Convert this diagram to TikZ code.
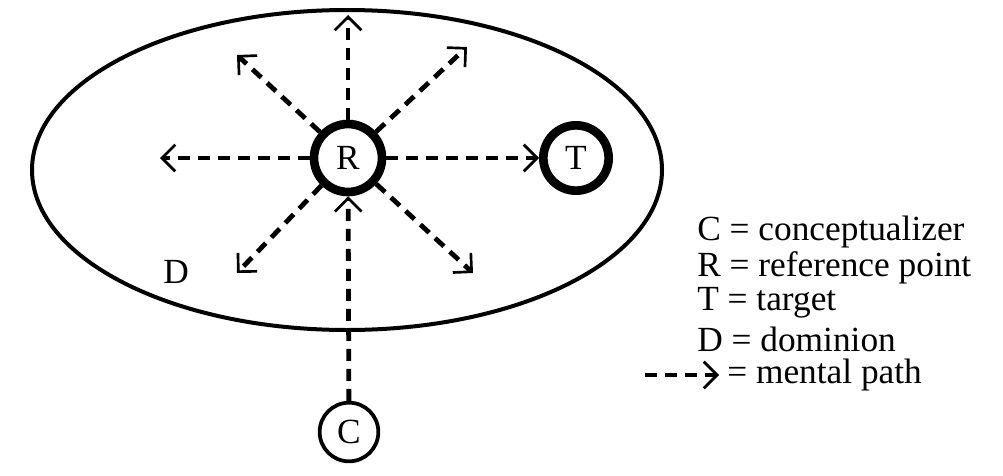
\documentclass[tikz,border=0pt]{standalone}
\usepackage{fontspec}
\setmainfont{Liberation Serif}
\usetikzlibrary{arrows.meta}
\begin{document}
\begin{tikzpicture}[x=0.75pt,y=-0.75pt,
  path/.style={line width=3.6pt,dash pattern=on 9pt off 6pt,-{Straight Barb[length=10pt,width=20pt,line width=2pt]}},
  lbl/.style={font=\fontsize{26.5}{28}\selectfont,anchor=west,inner sep=0}]
\useasboundingbox (0,0) rectangle (1003,475);
\draw[line width=3pt] (347,170) ellipse [x radius=315, y radius=160];
\node[circle,draw,line width=6.5pt,minimum size=51pt,font=\fontsize{26.5}{28}\selectfont,inner sep=0] (R) at (348,158) {R};
\node[circle,draw,line width=6.5pt,minimum size=49pt,font=\fontsize{26.5}{28}\selectfont,inner sep=0] (T) at (576,158) {T};
\node[circle,draw,line width=2.8pt,minimum size=44pt,font=\fontsize{26.5}{28}\selectfont,inner sep=0] (C) at (349,432) {C};
\coordinate (up) at (348,15);
\coordinate (lf) at (160,158);
\coordinate (ul) at (237,55);
\coordinate (ur) at (467,47);
\coordinate (ll) at (237,273);
\coordinate (lr) at (473,273);
\foreach \t in {up,lf,ul,ur,ll,lr} \draw[path] (R) -- (\t);
\draw[path] (R) -- (T);
\draw[path] (C) -- (R);
\node[lbl] (D) at (163,272) {D};
\node[lbl] (l1) at (697,232) {C = conceptualizer};
\node[lbl] (l2) at (697,268) {R = reference point};
\node[lbl] (l3) at (697,303) {T = target};
\node[lbl] (l4) at (697,339) {D = dominion};
\node[lbl] (l5) at (727,375) {= mental path};
\coordinate (a0) at (645,375);
\coordinate (a1) at (719,375);
\draw[path] (a0) -- (a1);
\end{tikzpicture}
\end{document}
